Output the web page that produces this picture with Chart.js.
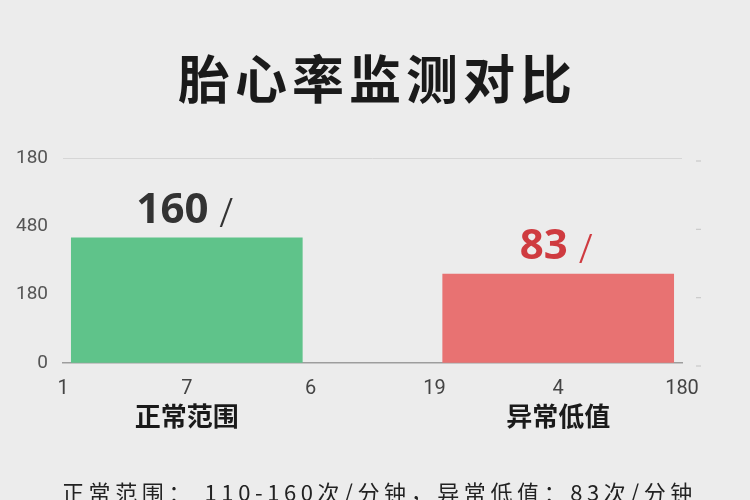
<!DOCTYPE html>
<html>
<head>
<meta charset="utf-8">
<script src="https://cdn.jsdelivr.net/npm/chart.js@4"></script>
<style>
  html, body { margin: 0; padding: 0; background: #ececec; }
  #wrap { position: relative; width: 750px; height: 500px; overflow: hidden; }
  #title {
    position: absolute; left: 0; top: 47px; width: 750px; padding-left: 5px; box-sizing: border-box;
    text-align: center; font-family: 'Noto Sans CJK SC'; font-weight: bold; font-size: 52px;
    line-height: 60px; letter-spacing: 5px; color: #1a1a1a;
  }
  #note {
    position: absolute; left: 62px; top: 476px; white-space: nowrap;
    font-family: 'Noto Sans CJK SC'; font-size: 22px; line-height: 30px; letter-spacing: 4.6px; color: #222;
  }
  canvas { position: absolute; left: 0; top: 0; }
</style>
</head>
<body>
<div id="wrap">
  <canvas id="chart" width="750" height="500"></canvas>
  <div id="title">胎心率监测对比</div>
  <div id="note">正常范围： 110-160次/分钟，异常低值：83次/分钟</div>
</div>
<script>
// --- Data ---
const xTickLabels = ['1', '7', '6', '19', '4', '180'];
const categories = ['正常范围', '异常低值'];
const categoryTicks = ['7', '4'];
const barHeights = [110, 78];
const shownValues = ['160', '83'];
const yTickLabels = ['0', '180', '480', '180'];

// --- Styles ---
const barColors = ['#5fc38a', '#e87272'];
const valueColors = ['#333333', '#cf3b40'];

// category names sit under the tick they belong to
const categoryRow = xTickLabels.map(t => {
  const k = categoryTicks.indexOf(t);
  return k >= 0 ? categories[k] : '';
});

// "160 /" style labels above each bar
const valueLabels = {
  id: 'valueLabels',
  afterDatasetsDraw(chart) {
    const ctx = chart.ctx;
    const meta = chart.getDatasetMeta(0);
    meta.data.forEach((bar, i) => {
      ctx.save();
      ctx.fillStyle = valueColors[i];
      ctx.textBaseline = 'alphabetic';
      ctx.textAlign = 'left';
      const numFont = 'bold 42px "Noto Sans"';
      const slashFont = '300 40px "Noto Sans"';
      ctx.font = numFont;
      const wNum = ctx.measureText(shownValues[i] + ' ').width;
      ctx.font = slashFont;
      const wSlash = ctx.measureText('/').width;
      const x0 = bar.x - (wNum + wSlash) / 2 - 2;
      const y = bar.y - 15;
      ctx.font = numFont;
      ctx.fillText(shownValues[i] + ' ', x0, y);
      ctx.font = slashFont;
      ctx.fillText('/', x0 + wNum, y + 4);
      ctx.restore();
    });
  }
};

// faint tick marks on the right edge
const rightMarks = {
  id: 'rightMarks',
  afterDraw(chart) {
    const ctx = chart.ctx;
    const y = chart.scales.y;
    const x = chart.chartArea.right + 14;
    ctx.save();
    ctx.strokeStyle = '#cacaca';
    ctx.lineWidth = 1.2;
    y.ticks.forEach(t => {
      const py = y.getPixelForValue(t.value) + 3;
      ctx.beginPath();
      ctx.moveTo(x, py);
      ctx.lineTo(x + 5, py);
      ctx.stroke();
    });
    ctx.restore();
  }
};

new Chart(document.getElementById('chart'), {
  type: 'bar',
  data: {
    labels: xTickLabels,
    datasets: [{
      data: categoryTicks.map((t, i) => ({ x: t, y: barHeights[i] })),
      backgroundColor: barColors,
      barThickness: 231,
      xAxisID: 'x',
      yAxisID: 'y'
    }]
  },
  options: {
    responsive: false,
    animation: false,
    layout: { padding: { top: 158, right: 68, bottom: 60, left: 0 } },
    plugins: {
      legend: { display: false },
      tooltip: { enabled: false }
    },
    scales: {
      x: {
        type: 'category',
        offset: false,
        grid: { display: false },
        border: { display: true, color: '#9d9d9d', width: 1.5 },
        ticks: {
          autoSkip: false, maxRotation: 0, padding: 6, color: '#444',
          font: { family: 'Roboto', size: 20 }
        },
        afterFit: s => { s.height = 32; }
      },
      x2: {
        type: 'category',
        position: 'bottom',
        labels: xTickLabels,
        offset: false,
        grid: { display: false },
        border: { display: false },
        ticks: {
          autoSkip: false, maxRotation: 0, padding: -2, color: '#1a1a1a',
          font: { family: 'Noto Sans CJK SC', size: 26, weight: 'bold' },
          callback: (v, i) => categoryRow[i]
        },
        afterFit: s => { s.height = 45; }
      },
      y: {
        min: 0,
        max: 180,
        grid: {
          drawTicks: false,
          color: c => (c.tick && c.tick.value === 180 ? '#d6d6d6' : 'rgba(0,0,0,0)')
        },
        border: { display: false },
        ticks: {
          stepSize: 60, padding: 15, color: '#555',
          font: { family: 'Roboto', size: 19 },
          callback: (v, i) => yTickLabels[i]
        },
        afterFit: s => { s.width = 63; }
      }
    }
  },
  plugins: [valueLabels, rightMarks]
});
</script>
</body>
</html>
